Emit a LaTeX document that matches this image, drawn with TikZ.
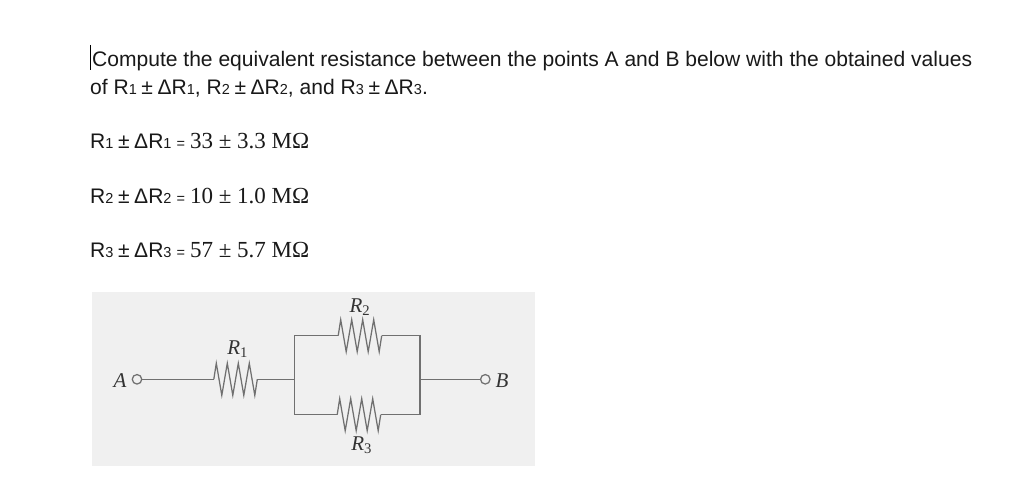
\documentclass[tikz,border=0pt]{standalone}
\usepackage{fontspec}
\setmainfont{Liberation Sans}
\newfontfamily\timesf{Liberation Serif}
\definecolor{panel}{HTML}{F0F0F0}
\definecolor{wirec}{HTML}{707070}
\definecolor{labelc}{HTML}{333333}
\newcommand{\sm}[1]{{\fontsize{14.5}{16}\selectfont #1}}
\newcommand{\RR}[1]{R\sm{#1}\hspace{4.6pt}±\hspace{4.6pt}ΔR\sm{#1}}
\newcommand{\tm}[1]{{\timesf\fontsize{23}{26}\selectfont #1}}
\tikzset{
  prose/.style={anchor=base west,inner sep=0pt,font=\fontsize{21.05}{24}\selectfont,text=black!90},
  wire/.style={draw=wirec,line width=1.25pt,line join=miter},
  terminal/.style={circle,draw=wirec,line width=1.25pt,fill=panel,minimum size=9.5pt,inner sep=0pt},
  symb/.style={inner sep=0pt,text=labelc,font=\timesf\itshape\fontsize{21}{23}\selectfont},
  zigzag/.style={wire}
}
\newcommand{\zig}[3]{% name, left x, y
  \coordinate (#1l) at (#2,#3);
  \coordinate (#1r) at (#2+43.5,#3);
  \draw[zigzag] (#1l) -- ++(2.5,-16) -- ++(5.5,32) -- ++(5.5,-32) -- ++(5.5,32) -- ++(5.5,-32) -- ++(5.5,32) -- ++(5.5,-32) -- ++(5.5,32) -- (#1r);
}
\begin{document}
\begin{tikzpicture}[x=1pt,y=-1pt]
\useasboundingbox (0,0) rectangle (1024,500);
\fill[white] (0,0) rectangle (1024,500);
\fill[panel] (92,292) rectangle (535,466);

% cursor
\draw[black,line width=1.3pt] (90.5,45) -- (90.5,70);

\node[prose] (l1) at (92,66.5) {Compute the equivalent resistance between the points A and B below with the obtained values};
\node[prose] (l2) at (90,95) {of \RR{1}, \RR{2}, and \RR{3}.};
\node[prose] (v1) at (90,148) {\RR{1}\hspace{5pt}\sm{=}\hspace{5pt}\tm{33 ± 3.3 MΩ}};
\node[prose] (v2) at (90,203) {\RR{2}\hspace{5pt}\sm{=}\hspace{5pt}\tm{10 ± 1.0 MΩ}};
\node[prose] (v3) at (90,257) {\RR{3}\hspace{5pt}\sm{=}\hspace{5pt}\tm{57 ± 5.7 MΩ}};

% circuit
\node[terminal] (A) at (137,379.3) {};
\node[terminal] (B) at (485.3,379.3) {};
\coordinate (jl) at (294.3,379.3);
\coordinate (jr) at (420,379.3);
\coordinate (tl) at (294.3,335.7);
\coordinate (tr) at (420,335.7);
\coordinate (bl) at (294.3,414.7);
\coordinate (br) at (420,414.7);
\zig{ra}{213.8}{379.3}
\zig{rb}{338.2}{335.7}
\zig{rc}{337.2}{414.7}
\draw[wire] (A) -- (ral);
\draw[wire] (rar) -- (jl);
\draw[wire] (rbl) -- (tl) -- (bl) -- (rcl);
\draw[wire] (rbr) -- (tr) -- (br) -- (rcr);
\draw[wire] (jr) -- (B);

\node[symb] (a) at (120,380.5) {A};
\node[symb] (b) at (502,380.5) {B};
\node[symb] (n1) at (237.7,349.5) {R\textsubscript{\upshape 1}};
\node[symb] (n2) at (360,307) {R\textsubscript{\upshape 2}};
\node[symb] (n3) at (361.7,445) {R\textsubscript{\upshape 3}};
\end{tikzpicture}
\end{document}
